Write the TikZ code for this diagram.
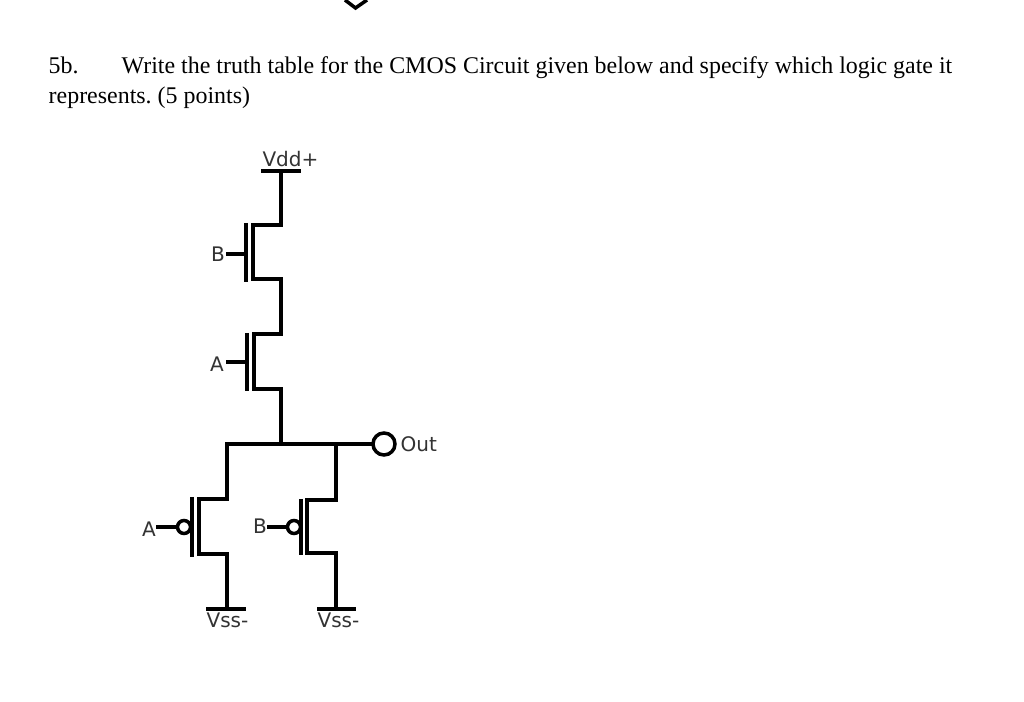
\documentclass[tikz,border=0pt]{standalone}
\usepackage{fontspec}
\setmainfont{Liberation Serif}
\newfontfamily\labelfont{DejaVu Sans}
\frenchspacing
\tikzset{
  wire/.style={draw=black, line width=1pt, line cap=rect},
  gatebar/.style={draw=black, line width=1pt},
  pin/.style={inner sep=0pt, text=black!80, font=\labelfont\fontsize{5.7}{7}\selectfont},
  question/.style={inner sep=0pt, anchor=base west, font=\fontsize{6.81}{8.5}\selectfont},
  bubble/.style={shape=circle, draw=black, line width=1pt, inner sep=0pt, fill=white}
}
\begin{document}
\begin{tikzpicture}
\useasboundingbox (0,0) rectangle (10.24,-7.02);
\fill[white] (0,0) rectangle (10.24,-7.02);
\draw[line width=1pt] (3.45,0) -- (3.555,-0.08) -- (3.67,0);
\node[question] (num) at (0.48,-0.74) {5b.};
\node[question] (line1) at (1.21,-0.74) {Write the truth table for the CMOS Circuit given below and specify which logic gate it};
\node[question] (line2) at (0.48,-1.04) {represents. (5 points)};
% rails
\node[pin, anchor=base] (vdd) at (2.905,-1.67) {Vdd+};
\coordinate (vddL) at (2.61,-1.71);
\coordinate (vddR) at (3.01,-1.71);
\coordinate (vddM) at (2.81,-1.71);
\draw[gatebar] (vddL) -- (vddR);
% top transistor B
\coordinate (d1) at (2.81,-2.25);
\coordinate (c1t) at (2.53,-2.25);
\coordinate (c1b) at (2.53,-2.79);
\coordinate (s1) at (2.81,-2.79);
\coordinate (g1t) at (2.46,-2.23);
\coordinate (g1b) at (2.46,-2.82);
\coordinate (g1m) at (2.46,-2.54);
\node[pin] (B1) at (2.18,-2.54) {B};
\coordinate (p1) at (2.28,-2.54);
\draw[wire] (vddM) -- (d1) -- (c1t) -- (c1b) -- (s1);
\draw[gatebar] (g1t) -- (g1b);
\draw[wire] (p1) -- (g1m);
% second transistor A
\coordinate (d2) at (2.81,-3.34);
\coordinate (c2t) at (2.54,-3.34);
\coordinate (c2b) at (2.54,-3.89);
\coordinate (s2) at (2.81,-3.89);
\coordinate (g2t) at (2.47,-3.33);
\coordinate (g2b) at (2.47,-3.91);
\coordinate (g2m) at (2.47,-3.62);
\node[pin] (A1) at (2.17,-3.64) {A};
\coordinate (p2) at (2.28,-3.62);
\coordinate (mid) at (2.81,-4.44);
\draw[wire] (s1) -- (d2) -- (c2t) -- (c2b) -- (s2) -- (mid);
\draw[gatebar] (g2t) -- (g2b);
\draw[wire] (p2) -- (g2m);
% output
\coordinate (left) at (2.27,-4.44);
\coordinate (right) at (3.36,-4.44);
\node[bubble, minimum size=0.22cm] (outc) at (3.84,-4.44) {};
\node[pin, anchor=west] (out) at (4.00,-4.44) {Out};
\draw[wire] (left) -- (outc);
% lower left transistor A
\coordinate (d3) at (2.27,-4.99);
\coordinate (c3t) at (1.99,-4.99);
\coordinate (c3b) at (1.99,-5.54);
\coordinate (s3) at (2.27,-5.54);
\coordinate (g3t) at (1.92,-4.97);
\coordinate (g3b) at (1.92,-5.57);
\node[bubble, minimum size=0.13cm] (b3) at (1.84,-5.27) {};
\node[pin] (A2) at (1.49,-5.29) {A};
\coordinate (p3) at (1.58,-5.27);
\coordinate (v3) at (2.27,-6.09);
\coordinate (v3L) at (2.06,-6.09);
\coordinate (v3R) at (2.46,-6.09);
\node[pin, anchor=base] (vss1) at (2.275,-6.28) {Vss-};
\draw[wire] (left) -- (d3) -- (c3t) -- (c3b) -- (s3) -- (v3);
\draw[gatebar] (g3t) -- (g3b);
\draw[wire] (p3) -- (b3);
\draw[gatebar] (v3L) -- (v3R);
% lower right transistor B
\coordinate (d4) at (3.36,-5.00);
\coordinate (c4t) at (3.07,-5.00);
\coordinate (c4b) at (3.07,-5.53);
\coordinate (s4) at (3.36,-5.53);
\coordinate (g4t) at (3.01,-4.99);
\coordinate (g4b) at (3.01,-5.55);
\node[bubble, minimum size=0.13cm] (b4) at (2.94,-5.27) {};
\node[pin] (B2) at (2.60,-5.26) {B};
\coordinate (p4) at (2.69,-5.27);
\coordinate (v4) at (3.36,-6.09);
\coordinate (v4L) at (3.17,-6.09);
\coordinate (v4R) at (3.56,-6.09);
\node[pin, anchor=base] (vss2) at (3.385,-6.28) {Vss-};
\draw[wire] (right) -- (d4) -- (c4t) -- (c4b) -- (s4) -- (v4);
\draw[gatebar] (g4t) -- (g4b);
\draw[wire] (p4) -- (b4);
\draw[gatebar] (v4L) -- (v4R);
\end{tikzpicture}
\end{document}
